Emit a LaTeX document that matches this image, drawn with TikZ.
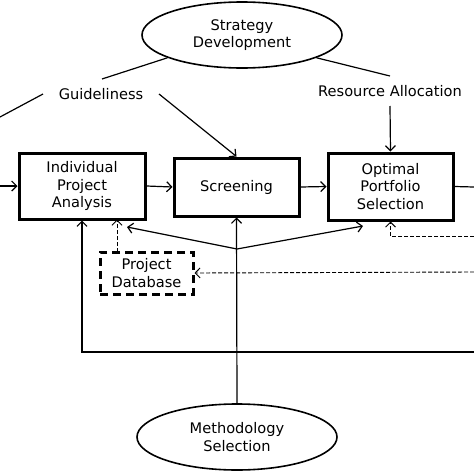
\documentclass[tikz,border=0pt]{standalone}
\usepackage{fontspec}
\setmainfont{DejaVu Sans}
\usetikzlibrary{arrows.meta,shapes.geometric}
\begin{document}
\begin{tikzpicture}[x=1pt,y=-1pt,
  every node/.style={font=\fontsize{14.6}{17.5}\selectfont},
  proc/.style={draw, line width=3pt, align=center, inner sep=0pt},
  dbbox/.style={draw, line width=3pt, dash pattern=on 8pt off 5pt, align=center, inner sep=0pt},
  ell/.style={draw, ellipse, line width=1.6pt, align=center, inner sep=0pt},
  ln/.style={line width=1.2pt},
  arr/.style={ln, -{Straight Barb[length=5pt,width=10pt]}},
  darr/.style={line width=0.9pt, -{Straight Barb[length=5pt,width=10pt]}, dash pattern=on 4pt off 2pt},
  ]
\useasboundingbox (0,0) rectangle (474,474);
\fill[white] (0,0) rectangle (474,474);

% nodes
\node[ell, minimum width=200pt, minimum height=66pt] (sd) at (242,35) {Strategy\\Development};
\node (gl) at (101,94) {Guideliness};
\node (ra) at (390,91) {Resource Allocation};
\node[proc, minimum width=126pt, minimum height=66pt] (ipa) at (82,186) {Individual\\Project\\Analysis};
\node[proc, minimum width=125pt, minimum height=58pt] (sc) at (236.5,187) {Screening};
\node[proc, minimum width=125pt, minimum height=67pt] (op) at (390.5,186.5) {Optimal\\Portfolio\\Selection};
\node[dbbox, minimum width=93pt, minimum height=42pt] (db) at (146.5,273) {Project\\Database};
\node[ell, minimum width=200pt, minimum height=66pt] (ms) at (237,437) {Methodology\\Selection};

% coordinates
\coordinate (g1) at (102,79);
\coordinate (g2) at (43,94);
\coordinate (g0) at (0,117);
\coordinate (g3) at (159,94);
\coordinate (r1) at (390,76);
\coordinate (r2) at (390,106);
\coordinate (inL) at (0,186);
\coordinate (outR) at (474,187);
\coordinate (loopR) at (474,352);
\coordinate (loopL) at (82,352);
\coordinate (dbt) at (117,252);
\coordinate (ipab) at (117,219.7);
\coordinate (dR1) at (474,272);
\coordinate (dR2) at (474,236);
\coordinate (dC) at (390.5,236);
\coordinate (br) at (237,249);
\coordinate (brL) at (127,227);
\coordinate (brR) at (363,226);

% connectors
\draw[ln] (sd.197) -- (g1);
\draw[ln] (sd.343) -- (r1);
\draw[ln] (g2) -- (g0);
\draw[arr] (g3) -- (sc.north);
\draw[arr] (r2) -- (op.north);
\draw[arr] (inL) -- (ipa.west);
\draw[arr] (ipa.east) -- (sc.west);
\draw[arr] (sc.east) -- (op.west);
\draw[ln] (op.east) -- (outR);
\draw[arr] (loopR) -- (loopL) -- (ipa.south);
\draw[darr] (dbt) -- (ipab);
\draw[darr] (dR1) -- (db.east);
\draw[darr] (dR2) -- (dC) -- (op.south);
\draw[arr] (ms.north) -- (sc.south);
\draw[arr] (br) -- (brL);
\draw[arr] (br) -- (brR);
\end{tikzpicture}
\end{document}
